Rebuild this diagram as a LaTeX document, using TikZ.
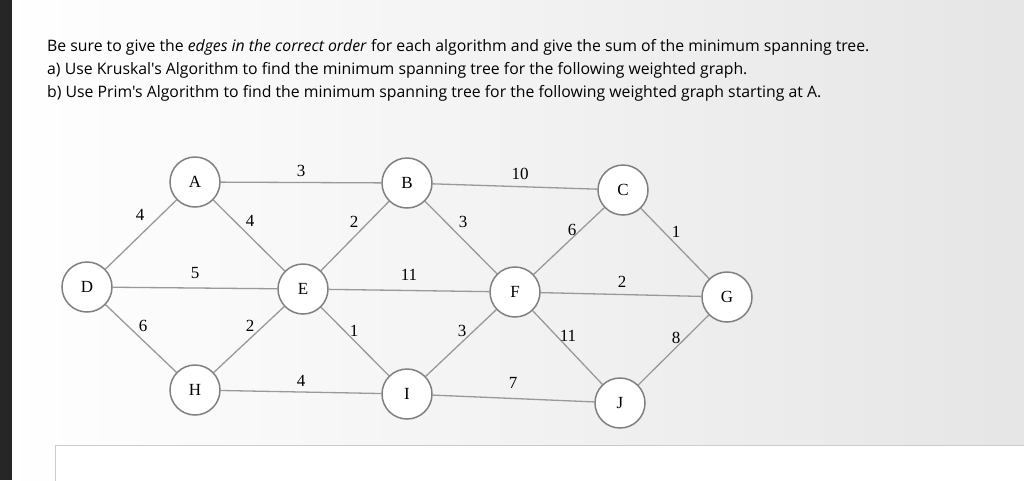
\documentclass[tikz,border=0pt]{standalone}
\usepackage{fontspec}
\setmainfont{Liberation Serif}
\newfontfamily\uifont{Open Sans}
\begin{document}
\begin{tikzpicture}[x=1pt,y=-1pt,
  vtx/.style={circle,draw=black!50,line width=1.5pt,fill=white,minimum size=50pt,inner sep=0pt,font=\fontsize{17}{17}\selectfont},
  edge/.style={draw=black!40,line width=1.3pt},
  wt/.style={font=\fontsize{17}{17}\selectfont,inner sep=1pt}]
\useasboundingbox (0,0) rectangle (1024,480);
\clip (0,0) rectangle (1024,480);
\shade[left color=white,right color=black!10] (0,0) rectangle (1024,480);
\fill[black!85] (0,0) rectangle (12,480);
\draw[black!20,fill=white] (55,445) rectangle (1030,490);
\begin{scope}[font=\uifont\fontsize{15.8}{15.8}\selectfont,anchor=base west,inner sep=0pt]
\node (t1) at (47,51) {Be sure to give the \textit{edges in the correct order} for each algorithm and give the sum of the minimum spanning tree.};
\node (t2) at (47,74) {a) Use Kruskal's Algorithm to find the minimum spanning tree for the following weighted graph.};
\node (t3) at (47,97) {b) Use Prim's Algorithm to find the minimum spanning tree for the following weighted graph starting at A.};
\end{scope}
\node[vtx] (A) at (195,182) {A};
\node[vtx] (B) at (407,183) {B};
\node[vtx] (C) at (623,190) {C};
\node[vtx] (D) at (87,287) {D};
\node[vtx] (E) at (303,289) {E};
\node[vtx] (F) at (515,292) {F};
\node[vtx] (G) at (727,297) {G};
\node[vtx] (H) at (195,390) {H};
\node[vtx] (I) at (407,394) {I};
\node[vtx] (J) at (620,403) {J};
\foreach \a/\b in {A/B,A/D,A/E,D/E,D/H,H/E,H/I,E/B,E/F,E/I,B/F,F/I,B/C,F/C,C/G,F/G,F/J,G/J,I/J}
  \path[edge] (\a) -- (\b);
\node[wt] (w1) at (301,171) {3};
\node[wt] (w2) at (140,215) {4};
\node[wt] (w3) at (250,221) {4};
\node[wt] (w4) at (195,273) {5};
\node[wt] (w5) at (143,326) {6};
\node[wt] (w6) at (250,326) {2};
\node[wt] (w7) at (301,381) {4};
\node[wt] (w8) at (354,222) {2};
\node[wt] (w9) at (409,275) {11};
\node[wt] (w10) at (354,331) {1};
\node[wt] (w11) at (463,222) {3};
\node[wt] (w12) at (462,331) {3};
\node[wt] (w13) at (520,174) {10};
\node[wt] (w14) at (572,230) {6};
\node[wt] (w15) at (676,232) {1};
\node[wt] (w16) at (622,282) {2};
\node[wt] (w17) at (568,336) {11};
\node[wt] (w18) at (676,338) {8};
\node[wt] (w19) at (513,383) {7};
\end{tikzpicture}
\end{document}
